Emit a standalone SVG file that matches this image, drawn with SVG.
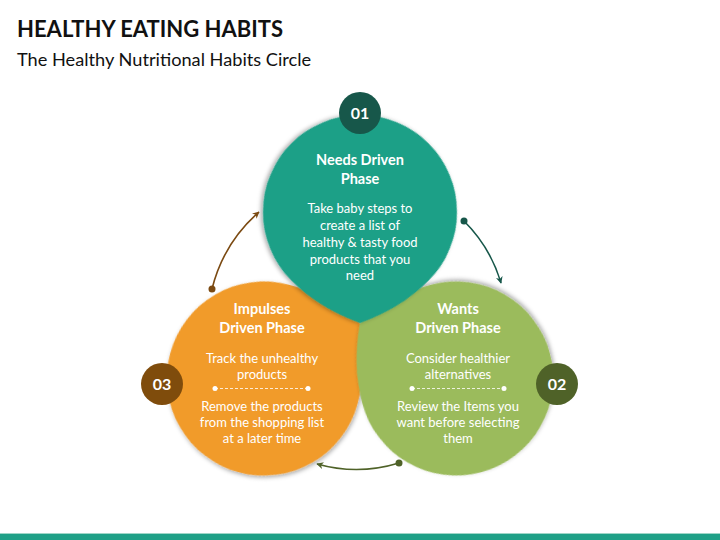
<svg xmlns="http://www.w3.org/2000/svg" width="720" height="540" viewBox="0 0 720 540">
<defs>
<style>
.title{font-family:"Lato","Liberation Sans",sans-serif;font-weight:700;font-size:22px;fill:#111}
.sub{font-family:"Lato","Liberation Sans",sans-serif;font-size:18.2px;fill:#111}
.hd{font-family:"Lato","Liberation Sans",sans-serif;font-weight:700;font-size:14.5px;fill:#fff;text-anchor:middle}
.bd{font-family:"Lato","Liberation Sans",sans-serif;font-size:13px;fill:#fff;text-anchor:middle}
.num{font-family:"Lato","Liberation Sans",sans-serif;font-weight:700;font-size:16px;fill:#fff;text-anchor:middle}
.sep{stroke:#fff;stroke-width:0.8;stroke-dasharray:3 2;fill:none}
.arc{fill:none;stroke-width:1.6}
</style>
<path id="drop" d="M-97,0 A97,97 0 0 1 0,-97 Q39.25,-97 78.5,-78.5 Q97,-39.25 97,0 A97,97 0 0 1 0,97 A97,97 0 0 1 -97,0 Z"/>
<filter id="sh" x="-20%" y="-20%" width="140%" height="140%">
<feDropShadow dx="1.5" dy="1.5" stdDeviation="2" flood-color="#000" flood-opacity="0.35"/>
</filter>
<marker id="mBrown" viewBox="0 0 10 10" refX="9" refY="5" markerWidth="7" markerHeight="7" markerUnits="userSpaceOnUse" orient="auto"><path d="M0,0 L10,5 L0,10 L3,5 Z" fill="#7b4a12"/></marker>
<marker id="mTeal" viewBox="0 0 10 10" refX="9" refY="5" markerWidth="7" markerHeight="7" markerUnits="userSpaceOnUse" orient="auto"><path d="M0,0 L10,5 L0,10 L3,5 Z" fill="#17574a"/></marker>
<marker id="mOlive" viewBox="0 0 10 10" refX="9" refY="5" markerWidth="7" markerHeight="7" markerUnits="userSpaceOnUse" orient="auto"><path d="M0,0 L10,5 L0,10 L3,5 Z" fill="#4f6228"/></marker>
</defs>
<rect width="720" height="540" fill="#fff"/>
<text class="title" x="17" y="37">HEALTHY EATING HABITS</text>
<text class="sub" x="17" y="66">The Healthy Nutritional Habits Circle</text>

<g id="node-03">
<use href="#drop" transform="translate(263.9,378.5) rotate(15)" fill="#f19b2c" filter="url(#sh)"/>
<text class="hd" x="262" y="314">Impulses</text>
<text class="hd" x="262" y="333">Driven Phase</text>
<text class="bd" x="262" y="362.5">Track the unhealthy</text>
<text class="bd" x="262" y="378.5">products</text>
<line class="sep" x1="215" y1="388.5" x2="308" y2="388.5"/>
<circle cx="215" cy="388.5" r="2.5" fill="#fff"/>
<circle cx="308" cy="388.5" r="2.5" fill="#fff"/>
<text class="bd" x="262" y="410.5">Remove the products</text>
<text class="bd" x="262" y="426.5">from the shopping list</text>
<text class="bd" x="262" y="442.5">at a later time</text>
<circle cx="162" cy="384" r="21" fill="#7f4c0c"/>
<text class="num" x="162" y="389.5">03</text>
</g>

<g id="node-02">
<use href="#drop" transform="translate(456.1,378.5) rotate(-105)" fill="#9bbb5c" filter="url(#sh)"/>
<text class="hd" x="458" y="314">Wants</text>
<text class="hd" x="458" y="333">Driven Phase</text>
<text class="bd" x="458" y="362.5">Consider healthier</text>
<text class="bd" x="458" y="378.5">alternatives</text>
<line class="sep" x1="412" y1="388.5" x2="504" y2="388.5"/>
<circle cx="412" cy="388.5" r="2.5" fill="#fff"/>
<circle cx="504" cy="388.5" r="2.5" fill="#fff"/>
<text class="bd" x="458" y="410.5">Review the Items you</text>
<text class="bd" x="458" y="426.5">want before selecting</text>
<text class="bd" x="458" y="442.5">them</text>
<circle cx="557" cy="384" r="21" fill="#4f6228"/>
<text class="num" x="557" y="389.5">02</text>
</g>

<g id="node-01">
<use href="#drop" transform="translate(360,212) rotate(135)" fill="#1fa087" filter="url(#sh)"/>
<text class="hd" x="360" y="165">Needs Driven</text>
<text class="hd" x="360" y="184">Phase</text>
<text class="bd" x="360" y="212.5">Take baby steps to</text>
<text class="bd" x="360" y="229.5">create a list of</text>
<text class="bd" x="360" y="246.5">healthy &amp; tasty food</text>
<text class="bd" x="360" y="263.5">products that you</text>
<text class="bd" x="360" y="279.5">need</text>
<circle cx="360" cy="113" r="21" fill="#17574a"/>
<text class="num" x="360" y="118.5">01</text>
</g>

<g id="connectors">
<path class="arc" d="M212,289 A150,150 0 0 1 259,212" stroke="#7b4a12" marker-end="url(#mBrown)"/>
<circle cx="212" cy="289" r="3.5" fill="#7b4a12"/>
<path class="arc" d="M464,221 A146,146 0 0 1 501,283" stroke="#17574a" marker-end="url(#mTeal)"/>
<circle cx="464" cy="221" r="3.5" fill="#17574a"/>
<path class="arc" d="M399,463 A146,146 0 0 1 317,464" stroke="#4f6228" marker-end="url(#mOlive)"/>
<circle cx="399" cy="463" r="3.5" fill="#4f6228"/>
</g>

<rect x="0" y="533" width="720" height="1.2" fill="#9fd6c8"/>
<rect x="0" y="534" width="720" height="6" fill="#1fa087"/>
</svg>
